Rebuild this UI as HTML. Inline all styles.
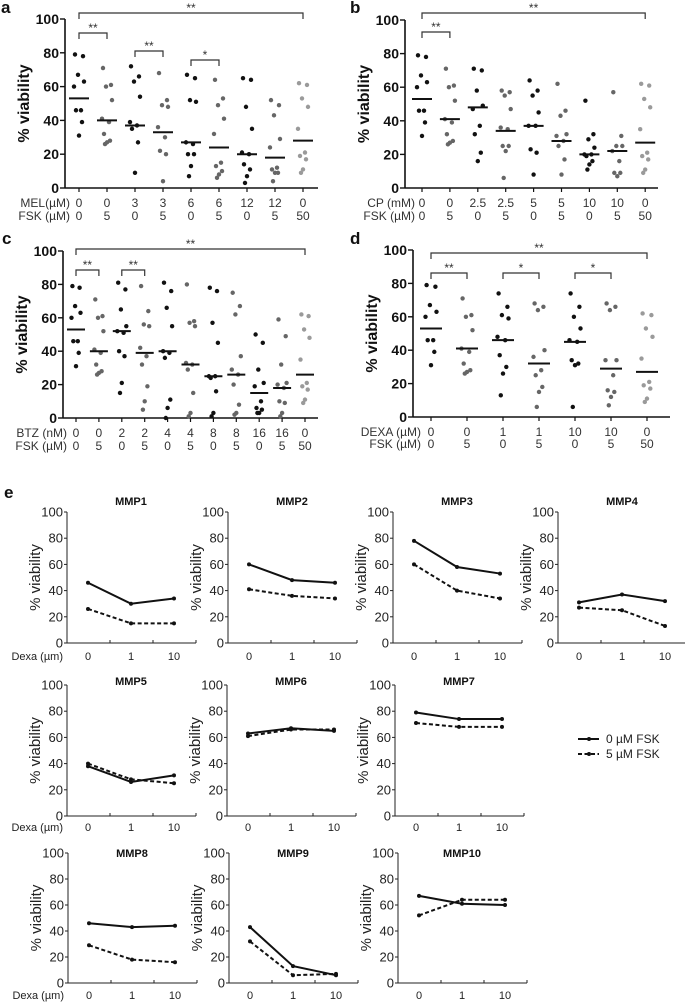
<!DOCTYPE html>
<html><head><meta charset="utf-8">
<style>
html,body{margin:0;padding:0;background:#fff;}
svg{display:block;font-family:"Liberation Sans",Arial,sans-serif;}
</style></head>
<body>
<svg id="fig" width="685" height="1002" viewBox="0 0 685 1002" xmlns="http://www.w3.org/2000/svg"></svg>
<script>
// ---------- data: panel a (MEL) ----------
const aRow1 = ["0","0","3","3","6","6","12","12","0"];
const aRow2 = ["0","5","0","5","0","5","0","5","50"];
const aGroups = [
 [79,78,67,63,60,46,46,39,31],
 [71,61,60,52,41,39,32,28,27,26],
 [72,66,63,54,39,37,35,27,9],
 [68,52,49,48,36,30,22,20,4],
 [67,65,52,51,27,26,20,20,13,7],
 [64,53,49,41,32,15,13,10,8,6],
 [65,64,48,35,21,20,14,11,7,3],
 [52,49,43,29,24,12,11,9,9,4],
 [62,61,53,48,35,21,19,17,11,9]];
const aMeans = [53,40,37,33,27,24,20,18,28];
// ---------- panel b (CP) ----------
const bRow1 = ["0","0","2.5","2.5","5","5","10","10","0"];
const bRow2 = ["0","5","0","5","0","5","0","5","50"];
const bGroups = [
 [79,78,67,63,60,46,46,39,31],
 [71,61,60,52,41,39,32,28,27,26],
 [71,70,58,49,47,37,32,21,16],
 [58,57,55,47,36,35,25,25,22,6],
 [64,58,55,45,37,37,23,21,8],
 [62,46,43,32,31,28,25,17,8],
 [52,32,29,24,20,20,19,16,14,11],
 [57,31,25,25,22,16,9,9,7],
 [62,61,53,48,35,21,19,17,11,9]];
const bMeans = [53,41,48,34,37,28,20,22,27];
// ---------- panel c (BTZ) ----------
const cRow1 = ["0","0","2","2","4","4","8","8","16","16","0"];
const cRow2 = ["0","5","0","5","0","5","0","5","0","5","50"];
const cGroups = [
 [79,78,67,63,60,46,46,39,31],
 [71,61,60,52,41,39,32,28,27,26],
 [81,77,65,55,52,51,40,37,21,15],
 [79,64,56,55,42,37,32,19,10,5],
 [81,76,66,55,40,39,36,11,6,0],
 [80,58,57,55,33,32,29,15,3,1],
 [78,76,57,45,25,25,24,16,3,1],
 [75,67,62,37,29,26,20,8,3,2],
 [50,45,29,21,19,10,6,5,3,3],
 [59,49,32,21,20,18,10,9,3,1],
 [62,61,53,48,35,21,19,17,11,9]];
const cMeans = [53,40,52,39,40,32,25,26,15,18,26];
// ---------- panel d (DEXA) ----------
const dRow1 = ["0","0","1","1","10","10","0"];
const dRow2 = ["0","5","0","5","0","5","50"];
const dGroups = [
 [79,78,67,63,60,46,46,39,31],
 [71,61,60,52,41,39,32,28,27,26],
 [74,66,61,59,48,46,37,30,26,13],
 [68,66,64,40,36,28,25,18,15,6],
 [74,66,60,53,46,45,34,32,31,6],
 [68,66,64,34,34,25,16,15,12,7],
 [62,61,53,48,35,21,19,17,11,9]];
const dMeans = [53,41,46,32,45,29,27];
// ---------- panel e (MMP) ----------
const mmpNames = ["MMP1","MMP2","MMP3","MMP4","MMP5","MMP6","MMP7","MMP8","MMP9","MMP10"];
const dexaLabels = ["0","1","10"];
const mmpSolid = [[46,30,34],[60,48,46],[78,58,53],[31,37,32],[38,26,31],[63,67,65],[79,74,74],[46,43,44],[43,13,6],[67,61,60]];
const mmpDashed = [[26,15,15],[41,36,34],[60,40,34],[27,25,13],[40,28,25],[61,66,66],[71,68,68],[29,18,16],[32,6,7],[52,64,64]];
const yTicks = [0,20,40,60,80,100];

const NS="http://www.w3.org/2000/svg";
const svg=document.getElementById('fig');
function mk(tag,attrs,parent){const e=document.createElementNS(NS,tag);for(const k in attrs)e.setAttribute(k,attrs[k]);(parent||svg).appendChild(e);return e;}
function txt(s,attrs,parent){const e=mk('text',attrs,parent);e.textContent=s;return e;}

const jit=[-4,4,-1,5,-5,2,-3,3,0,-2];
function groupColor(i,n){ if(i===n-1) return '#9a9a9a'; return i%2===0?'#111':'#666'; }

function scatter(cfg){
 const g=mk('g',{});
 
 
 const y=v=>cfg.y0+(cfg.y100-cfg.y0)*v/100;
 const x=i=>cfg.x0+i*cfg.step;
 const yAx=mk('line',{x1:cfg.ax,y1:y(0),x2:cfg.ax,y2:y(100),stroke:'#111','stroke-width':1.6},g);
 
 
 const xAx=mk('line',{x1:cfg.ax,y1:y(0),x2:cfg.end,y2:y(0),stroke:'#111','stroke-width':1.6},g);
 
 
 yTicks.forEach(t=>{
  mk('line',{x1:cfg.ax-5,y1:y(t),x2:cfg.ax,y2:y(t),stroke:'#111','stroke-width':1.4},g);
  const l=txt(String(t),{x:cfg.ax-6,y:y(t)+5,'text-anchor':'end','font-size':14,'font-weight':'bold',fill:'#111'},g);
  
  
 });
 const yt=txt('% viability',{x:0,y:0,transform:`translate(${cfg.ax-36},${(y(0)+y(100))/2}) rotate(-90)`,'text-anchor':'middle','font-size':16,'font-weight':'bold',fill:'#111'},g);
 
 
 cfg.row1.forEach((s,i)=>{
  mk('line',{x1:x(i),y1:y(0),x2:x(i),y2:y(0)+4,stroke:'#111','stroke-width':1.2},g);
  const a=txt(s,{x:x(i),y:cfg.r1,'text-anchor':'middle','font-size':12,fill:'#333'},g);
  
  
  const b=txt(cfg.row2[i],{x:x(i),y:cfg.r2,'text-anchor':'middle','font-size':12,fill:'#333'},g);
  
  
 });
 const l1=txt(cfg.lab1,{x:cfg.labX,y:cfg.r1,'text-anchor':'end','font-size':12,fill:'#333'},g);
 
 
 const l2=txt('FSK (µM)',{x:cfg.labX,y:cfg.r2,'text-anchor':'end','font-size':12,fill:'#333'},g);
 
 
 cfg.groups.forEach((arr,i)=>{
  const col=groupColor(i,cfg.groups.length);
  arr.forEach((v,k)=>{
   const c=mk('circle',{cx:x(i)+jit[k%jit.length]*cfg.j,cy:y(v),r:2.2,fill:col},g);
   
   
  });
  const m=mk('line',{x1:x(i)-cfg.mw,y1:y(cfg.means[i]),x2:x(i)+cfg.mw,y2:y(cfg.means[i]),stroke:'#111','stroke-width':2},g);
  
  
 });
 cfg.brackets.forEach(b=>{
  const x1=x(b[0]),x2=x(b[1]),by=b[2];
  const p=mk('path',{d:`M${x1},${by+6} V${by} H${x2} V${by+6}`,fill:'none',stroke:'#333','stroke-width':1.2},g);
  
  
  const s=txt(b[3],{x:(x1+x2)/2,y:by-1,'text-anchor':'middle','font-size':12,fill:'#333'},g);
  
  
 });
 const L=txt(cfg.letter,{x:cfg.lx,y:cfg.ly,'font-size':17,'font-weight':'bold',fill:'#111'},g);
 
 
}

scatter({name:'panel-a-mel',groups:aGroups,means:aMeans,row1:aRow1,row2:aRow2,lab1:'MEL(µM)',labX:70,
 ax:65,end:318,x0:79,step:28,y100:19,y0:188,r1:207,r2:220,j:1,mw:10,letter:'a',lx:1,ly:13,
 brackets:[[0,8,13,'**'],[0,1,33,'**'],[2,3,51,'**'],[4,5,60,'*']]});
scatter({name:'panel-b-cp',groups:bGroups,means:bMeans,row1:bRow1,row2:bRow2,lab1:'CP (mM)',labX:415,
 ax:405,end:658,x0:422,step:27.9,y100:20,y0:188,r1:207,r2:220,j:1,mw:10,letter:'b',lx:350,ly:13,
 brackets:[[0,8,13,'**'],[0,1,32,'**']]});
scatter({name:'panel-c-btz',groups:cGroups,means:cMeans,row1:cRow1,row2:cRow2,lab1:'BTZ (nM)',labX:67,
 ax:63,end:318,x0:76,step:22.9,y100:251,y0:418,r1:437,r2:450,j:0.9,mw:9,letter:'c',lx:2,ly:244,
 brackets:[[0,10,249,'**'],[0,1,270,'**'],[2,3,270,'**']]});
scatter({name:'panel-d-dexa',groups:dGroups,means:dMeans,row1:dRow1,row2:dRow2,lab1:'DEXA (µM)',labX:421,
 ax:413,end:670,x0:431,step:36,y100:250,y0:417,r1:436,r2:448,j:1.1,mw:11,letter:'d',lx:350,ly:244,
 brackets:[[0,6,253,'**'],[0,1,273,'**'],[2,3,273,'*'],[4,5,273,'*']]});

// ---------- panel e ----------
const eL=txt('e',{x:4,y:498,'font-size':17,'font-weight':'bold',fill:'#111'});


const rows=[{ax:[67,228,393,558],y100:512,y0:643,lab:660,title:505},
 {ax:[67,227,395],y100:685,y0:816,lab:831,title:685},
 {ax:[68,229,398],y100:853,y0:983,lab:999,title:857}];
let idx=0;
rows.forEach((r,ri)=>{
 r.ax.forEach((ax,ci)=>{
  const i=idx++;
  const g=mk('g',{});
  
  
  const y=v=>r.y0+(r.y100-r.y0)*v/100;
  const x=k=>ax+21+k*43;
  mk('line',{x1:ax,y1:y(0),x2:ax,y2:y(100),stroke:'#222','stroke-width':1},g);
  mk('line',{x1:ax,y1:y(0),x2:ax+129,y2:y(0),stroke:'#222','stroke-width':1},g);
  [43,86,129].forEach(d=>mk('line',{x1:ax+d,y1:y(0),x2:ax+d,y2:y(0)-3,stroke:'#222','stroke-width':1},g));
  yTicks.forEach(t=>{
   mk('line',{x1:ax-3,y1:y(t),x2:ax,y2:y(t),stroke:'#222','stroke-width':1},g);
   const l=txt(String(t),{x:ax-4,y:y(t)+4.5,'text-anchor':'end','font-size':13,fill:'#222'},g);
   
   
  });
  const yt=txt('% viability',{x:0,y:0,transform:`translate(${ax-27},${(y(0)+y(100))/2}) rotate(-90)`,'text-anchor':'middle','font-size':15,fill:'#222'},g);
  
  
  const tt=txt(mmpNames[i],{x:ax+64,y:r.title,'text-anchor':'middle','font-size':11,'font-weight':'bold',fill:'#111'},g);
  
  
  dexaLabels.forEach((s,k)=>{
   const l=txt(s,{x:x(k),y:r.lab,'text-anchor':'middle','font-size':11,fill:'#222'},g);
   
   
  });
  if(ci===0){
   const d=txt('Dexa (µm)',{x:ax-4,y:r.lab,'text-anchor':'end','font-size':11,fill:'#222'},g);
   
   
  }
  [[mmpSolid[i],'none','series-0um-fsk'],[mmpDashed[i],'4,2.5','series-5um-fsk']].forEach(([vals,dash,nm])=>{
   const pts=vals.map((v,k)=>x(k)+','+y(v)).join(' ');
   const pl=mk('polyline',{points:pts,fill:'none',stroke:'#111','stroke-width':2,'stroke-dasharray':dash},g);
   
   
   vals.forEach((v,k)=>{
    const c=mk('circle',{cx:x(k),cy:y(v),r:2,fill:'#111'},g);
    
    
   });
  });
 });
});
// legend
const lg=mk('g',{});


[['0 µM FSK','none',739,'legend-entry-0um'],['5 µM FSK','4,2.5',754,'legend-entry-5um']].forEach(([s,dash,yy,nm])=>{
 const e=mk('g',{},lg);
 
 
 mk('line',{x1:578,y1:yy,x2:599,y2:yy,stroke:'#111','stroke-width':2,'stroke-dasharray':dash},e);
 mk('circle',{cx:589,cy:yy,r:2,fill:'#111'},e);
 txt(s,{x:606,y:yy+4,'font-size':12,fill:'#222'},e);
});
</script>
</body></html>
